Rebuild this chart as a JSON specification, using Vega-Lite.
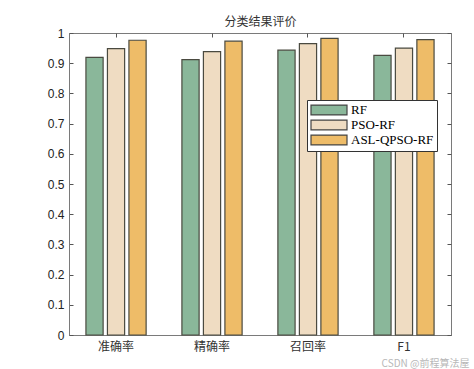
{
  "$schema": "https://vega.github.io/schema/vega-lite/v6.json",
  "autosize": {"type": "none"},
  "width": 382,
  "height": 302,
  "padding": {"left": 69, "top": 33, "right": 23, "bottom": 34},
  "background": "white",
  "config": {
    "view": {"stroke": "#7a7a7a", "strokeWidth": 1},
    "axis": {
      "domainColor": "#7a7a7a",
      "tickColor": "#555555",
      "grid": false,
      "labelColor": "#222222"
    }
  },
  "data": {
    "values": [
      {"metric": "准确率", "model": "RF", "value": 0.919},
      {"metric": "准确率", "model": "PSO-RF", "value": 0.948},
      {"metric": "准确率", "model": "ASL-QPSO-RF", "value": 0.976},
      {"metric": "精确率", "model": "RF", "value": 0.912},
      {"metric": "精确率", "model": "PSO-RF", "value": 0.938},
      {"metric": "精确率", "model": "ASL-QPSO-RF", "value": 0.973},
      {"metric": "召回率", "model": "RF", "value": 0.943},
      {"metric": "召回率", "model": "PSO-RF", "value": 0.965},
      {"metric": "召回率", "model": "ASL-QPSO-RF", "value": 0.982},
      {"metric": "F1", "model": "RF", "value": 0.926},
      {"metric": "F1", "model": "PSO-RF", "value": 0.950},
      {"metric": "F1", "model": "ASL-QPSO-RF", "value": 0.978}
    ]
  },
  "layer": [
    {
      "mark": {"type": "bar", "stroke": "#4a4a40", "strokeWidth": 1.2},
      "encoding": {
        "x": {
          "field": "metric",
          "type": "nominal",
          "sort": ["准确率", "精确率", "召回率", "F1"],
          "scale": {"paddingInner": 0.328, "paddingOuter": 0.154},
          "axis": {
            "title": "CSDN @前程算法屋",
            "titleX": 356,
            "titleY": 28,
            "titleAlign": "center",
            "titleBaseline": "middle",
            "titleColor": "#b8b8b8",
            "titleFont": "Noto Sans CJK SC",
            "titleFontSize": 10,
            "titleFontWeight": "normal",
            "labelAngle": 0,
            "labelFont": "Noto Sans CJK SC",
            "labelFontSize": 12,
            "labelPadding": 10,
            "tickSize": -4,
            "labelColor": "#333333"
          }
        },
        "xOffset": {
          "field": "model",
          "type": "nominal",
          "sort": ["RF", "PSO-RF", "ASL-QPSO-RF"],
          "scale": {"paddingInner": 0.2, "paddingOuter": 0.1}
        },
        "y": {
          "field": "value",
          "type": "quantitative",
          "scale": {"domain": [0, 1], "nice": false, "zero": true},
          "axis": {
            "title": null,
            "values": [0, 0.1, 0.2, 0.3, 0.4, 0.5, 0.6, 0.7, 0.8, 0.9, 1],
            "format": "~g",
            "labelFont": "Liberation Sans",
            "labelFontSize": 12,
            "labelPadding": 9,
            "tickSize": -4
          }
        },
        "color": {
          "field": "model",
          "type": "nominal",
          "sort": ["RF", "PSO-RF", "ASL-QPSO-RF"],
          "scale": {
            "domain": ["RF", "PSO-RF", "ASL-QPSO-RF"],
            "range": ["#8ab79a", "#efdcc2", "#eebc68"]
          },
          "legend": {
            "title": null,
            "orient": "none",
            "legendX": 238,
            "legendY": 67,
            "direction": "vertical",
            "fillColor": "white",
            "strokeColor": "#333333",
            "padding": 3,
            "rowPadding": -2,
            "symbolType": "M-3,-0.82L3,-0.82L3,0.82L-3,0.82Z",
            "symbolSize": 144,
            "symbolOffset": 12,
            "symbolStrokeColor": "#444444",
            "symbolStrokeWidth": 1.2,
            "symbolOpacity": 1,
            "labelFont": "Liberation Serif",
            "labelFontSize": 13,
            "labelColor": "#000000",
            "labelOffset": 15,
            "labelLimit": 200
          }
        }
      }
    },
    {
      "mark": {"type": "bar", "opacity": 0},
      "encoding": {
        "x": {
          "field": "metric",
          "type": "nominal",
          "sort": ["准确率", "精确率", "召回率", "F1"],
          "axis": {
            "orient": "top",
            "labels": false,
            "title": "分类结果评价",
            "titleFont": "Noto Sans CJK SC",
            "titleFontSize": 12,
            "titleFontWeight": "normal",
            "titleColor": "#333333",
            "titlePadding": 4,
            "tickSize": -4,
            "domain": false
          }
        },
        "y": {
          "field": "value",
          "type": "quantitative",
          "axis": {
            "orient": "right",
            "labels": false,
            "title": null,
            "values": [0, 0.1, 0.2, 0.3, 0.4, 0.5, 0.6, 0.7, 0.8, 0.9, 1],
            "tickSize": -4,
            "domain": false
          }
        }
      }
    }
  ],
  "resolve": {"axis": {"x": "independent", "y": "independent"}}
}
